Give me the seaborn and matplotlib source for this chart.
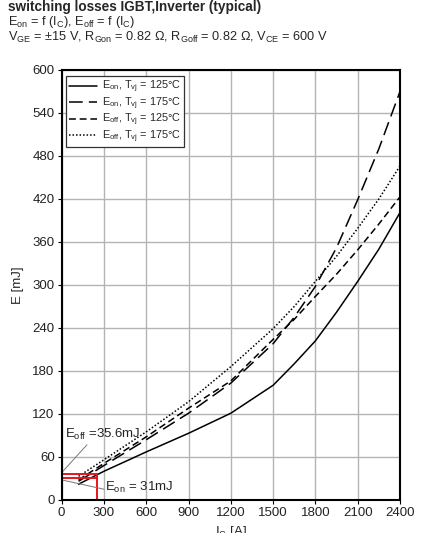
import matplotlib
matplotlib.use("Agg")
import matplotlib.pyplot as plt
import pandas as pd
import seaborn as sns

# ── data ─────────────────────────────────────────────────────────────────────

IC_A = [120, 300, 600, 900, 1200, 1500, 1650, 1800, 1950, 2100, 2250, 2400]
EON_125 = [22, 40, 67, 93, 121, 160, 190, 222, 262, 305, 350, 401]
EON_175 = [26, 48, 84, 121, 163, 218, 255, 298, 352, 419, 490, 570]
EOFF_125 = [28, 51, 88, 128, 166, 224, 252, 284, 315, 349, 385, 423]
EOFF_175 = [33, 56, 95, 137, 186, 239, 270, 305, 340, 379, 420, 466]

X_TICKS = [0, 300, 600, 900, 1200, 1500, 1800, 2100, 2400]
Y_TICKS = [0, 60, 120, 180, 240, 300, 360, 420, 480, 540, 600]

# marked operating point (red box)
MARK_IC = 250
MARK_EOFF = 35.6
MARK_EON = 31

SERIES = [
    (r"$\mathrm{E_{on}}$, $\mathrm{T_{vj}}$ = 125°C", EON_125, "-"),
    (r"$\mathrm{E_{on}}$, $\mathrm{T_{vj}}$ = 175°C", EON_175, (0, (9, 4))),
    (r"$\mathrm{E_{off}}$, $\mathrm{T_{vj}}$ = 125°C", EOFF_125, (0, (4.5, 2.5))),
    (r"$\mathrm{E_{off}}$, $\mathrm{T_{vj}}$ = 175°C", EOFF_175, (0, (1, 1.3))),
]


def main():
    sns.set_style("whitegrid")
    plt.rcParams["font.family"] = ["Liberation Sans", "DejaVu Sans"]
    plt.rcParams["mathtext.fontset"] = "custom"
    plt.rcParams["mathtext.rm"] = "Liberation Sans"
    plt.rcParams["mathtext.it"] = "Liberation Sans"

    fig = plt.figure(figsize=(4.22, 5.33), dpi=100)
    fig.patch.set_facecolor("white")
    ax = fig.add_axes([0.146, 0.062, 0.802, 0.807])

    for label, vals, ls in SERIES:
        df = pd.DataFrame({"Ic": IC_A, "E": vals})
        sns.lineplot(data=df, x="Ic", y="E", ax=ax, color="black",
                     linestyle=ls, linewidth=1.1, label=label)

    # ── axes ────────────────────────────────────────────────────────────────
    ax.set_xlim(0, 2400)
    ax.set_ylim(0, 600)
    ax.set_xticks(X_TICKS)
    ax.set_yticks(Y_TICKS)
    ax.grid(True, color="#b4b4b4", linewidth=1.0)
    ax.tick_params(axis="both", labelsize=9.5, colors="black", length=3,
                   width=0.8, direction="out", left=True, bottom=True, pad=2)
    ax.tick_params(axis="both", labelcolor="#222222")
    for spine in ax.spines.values():
        spine.set_edgecolor("black")
        spine.set_linewidth(1.5)
    ax.set_ylabel("E [mJ]", fontsize=9.5, labelpad=6)
    ax.set_xlabel(r"$\mathrm{I_C}$ [A]", fontsize=9.5, labelpad=4)

    leg = ax.legend(loc="upper left", bbox_to_anchor=(0.008, 0.99),
                    fontsize=7.8, frameon=True, fancybox=False,
                    edgecolor="#333333", framealpha=1, handlelength=2.6,
                    handletextpad=0.45, borderpad=0.25, labelspacing=0.0,
                    borderaxespad=0.2)
    leg.get_frame().set_linewidth(0.9)

    # ── red operating point marker ─────────────────────────────────────────
    red = "#e8141b"
    ax.plot([0, MARK_IC], [MARK_EOFF, MARK_EOFF], color=red, lw=1.4, clip_on=False)
    ax.plot([0, MARK_IC], [MARK_EON, MARK_EON], color=red, lw=1.4, clip_on=False)
    ax.plot([MARK_IC, MARK_IC], [MARK_EOFF, 0], color=red, lw=1.4, clip_on=False)

    ax.plot([0, 180], [38, 77], color="#777777", lw=0.7)
    ax.plot([0, 300], [28, 15], color="#777777", lw=0.7)
    ax.text(25, 92, r"$\mathrm{E_{off}}$ =35.6mJ", fontsize=9.5,
            va="center", ha="left", color="#222222")
    ax.text(310, 17, r"$\mathrm{E_{on}}$ = 31mJ", fontsize=9.5,
            va="center", ha="left", color="#222222")

    # ── header text (baselines at 11, 25, 41 px) ───────────────────────────
    h = 533.0
    fig.text(0.019, 1 - 11 / h, "switching losses IGBT,Inverter (typical)",
             fontsize=9.8, fontweight="bold", va="baseline", ha="left")
    fig.text(0.019, 1 - 25 / h, r"$\mathrm{E_{on}}$ = f ($\mathrm{I_C}$), "
             r"$\mathrm{E_{off}}$ = f ($\mathrm{I_C}$)",
             fontsize=9.2, va="baseline", ha="left")
    fig.text(0.019, 1 - 41 / h, r"$\mathrm{V_{GE}}$ = ±15 V, $\mathrm{R_{Gon}}$ = 0.82 Ω, "
             r"$\mathrm{R_{Goff}}$ = 0.82 Ω, $\mathrm{V_{CE}}$ = 600 V",
             fontsize=9.2, va="baseline", ha="left")

    fig.savefig("out.png", dpi=100, facecolor="white")
    plt.close(fig)


if __name__ == "__main__":
    main()
